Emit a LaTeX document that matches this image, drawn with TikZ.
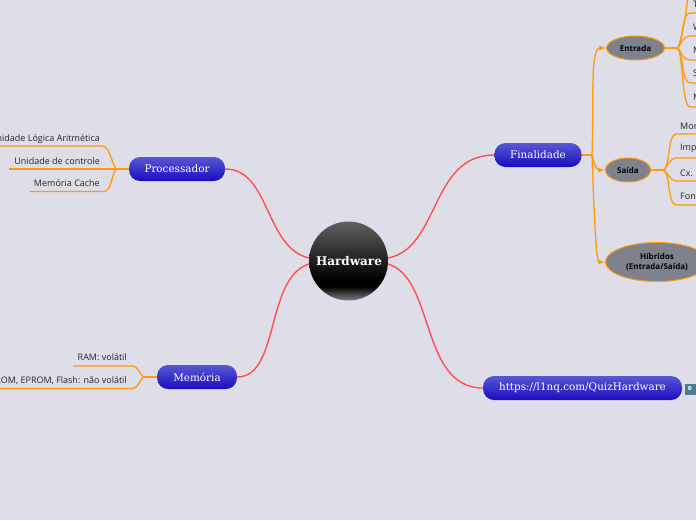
\documentclass[tikz,border=0pt]{standalone}
\usepackage{fontspec}
\usepackage{tikz}
\usetikzlibrary{shapes.geometric}
\setmainfont{Open Sans}
\newfontfamily\slabfont{DejaVu Serif}
\definecolor{bgcol}{HTML}{DEDEE8}
\definecolor{linkcol}{HTML}{FF5050}
\definecolor{subcol}{HTML}{FF9A0A}
\definecolor{ovalcol}{HTML}{7E828C}
\definecolor{topblue}{HTML}{5858D4}
\definecolor{botblue}{HTML}{1A0CC0}
\definecolor{iconcol}{HTML}{4E7B90}
\pgfdeclareverticalshading{hwball}{100bp}{color(0bp)=(black!50); color(25bp)=(black!50); color(34bp)=(black); color(38bp)=(black); color(75bp)=(black!62); color(100bp)=(black!62)}

\tikzset{
  main/.style={rounded corners=11pt, minimum height=24pt, top color=topblue, bottom color=botblue, text=white, inner sep=0pt, font=\slabfont\fontsize{10.4}{13}\selectfont},
  oval/.style={ellipse, draw=subcol, line width=1pt, fill=ovalcol, inner sep=0pt, font=\bfseries\fontsize{8}{10}\selectfont, align=center},
  leaf/.style={inner sep=0pt, text=black!85, font=\fontsize{9}{11}\selectfont},
  link/.style={draw=linkcol, line width=1.4pt},
  sub/.style={draw=subcol, line width=1.3pt},
}

\begin{document}
\begin{tikzpicture}[x=1pt, y=-1pt]
\fill[bgcol] (0, 0) rectangle (696, 520);
\useasboundingbox (0, 0) rectangle (696, 520);

% centre
\node[circle, minimum size=79pt, inner sep=0pt, shading=hwball] (hw) at (348.5, 261) {};
\node[inner sep=0pt, text=white, font=\slabfont\bfseries\fontsize{12}{14}\selectfont] (hwlabel) at (349, 261) {Hardware};

% main topics
\node[main, minimum width=96pt] (proc) at (177, 169) {Processador};
\node[main, minimum width=80pt] (mem) at (197, 377) {Memória};
\node[main, minimum width=87pt] (fin) at (538, 155) {Finalidade};
\node[main, minimum width=199pt] (quiz) at (582.5, 388) {https://l1nq.com/QuizHardware};
\node[fill=iconcol, minimum size=11pt, inner sep=0pt, text=white, font=\bfseries\fontsize{7}{7}\selectfont] (icon) at (690, 389) {e};

% links from the centre
\coordinate (p1) at (309, 258);
\coordinate (p2) at (309, 264);
\coordinate (p3) at (388, 258);
\coordinate (p4) at (388, 264);
\draw[link] (p1) .. controls (265, 248) and (270, 169) .. (proc.east);
\draw[link] (p2) .. controls (265, 278) and (280, 377) .. (mem.east);
\draw[link] (p3) .. controls (440, 248) and (430, 155) .. (fin.west);
\draw[link] (p4) .. controls (435, 278) and (420, 388) .. (quiz.west);

% processador
\node[leaf, anchor=south east] (ula) at (100, 144) {Unidade Lógica Aritmética};
\node[leaf, anchor=south east] (ctrl) at (100, 164.5) {Unidade de controle};
\node[leaf, anchor=south east] (cache) at (100, 187) {Memória Cache};
\coordinate (pj) at (117, 169);
\coordinate (ulaend) at (-5, 146);
\coordinate (ctrlend) at (9, 169);
\coordinate (cacheend) at (30, 191.5);
\draw[sub] (proc.west) -- (pj);
\draw[sub] (pj) .. controls (112, 168) and (111, 146) .. (102, 146) -- (ulaend);
\draw[sub] (pj) -- (ctrlend);
\draw[sub] (pj) .. controls (112, 170) and (112, 191.5) .. (104, 191.5) -- (cacheend);

% memoria
\node[leaf, anchor=south east] (ram) at (127, 361) {RAM: volátil};
\node[leaf, anchor=south east] (rom) at (127, 385) {ROM, EPROM, Flash: não volátil};
\coordinate (mj) at (144, 377);
\coordinate (ramend) at (73, 366);
\coordinate (romend) at (-5, 388.5);
\draw[sub] (mem.west) -- (mj);
\draw[sub] (mj) .. controls (140, 376) and (139, 366) .. (132, 366) -- (ramend);
\draw[sub] (mj) .. controls (140, 378) and (139, 388.5) .. (132, 388.5) -- (romend);

% finalidade
\node[oval, minimum width=58pt, minimum height=24pt] (ent) at (635.5, 48) {Entrada};
\node[oval, minimum width=45pt, minimum height=24pt] (sai) at (628, 170) {Saída};
\node[oval, minimum width=103pt, minimum height=39pt] (hib) at (657, 262) {Híbridos\\(Entrada/Saída)};
\coordinate (fj) at (592, 155);
\draw[sub] (fin.east) -- (fj);
\draw[sub, -latex] (fj) .. controls (594, 100) and (590, 48) .. (ent.west);
\draw[sub, -latex] (fj) .. controls (594, 162) and (596, 170) .. (sai.west);
\draw[sub, -latex] (fj) .. controls (594, 210) and (596, 262) .. (hib.west);

% entrada
\node[leaf, anchor=south west] (e1) at (693, 8) {Teclado};
\node[leaf, anchor=south west] (e2) at (693, 31) {Webcam};
\node[leaf, anchor=south west] (e3) at (693, 54) {Microfone};
\node[leaf, anchor=south west] (e4) at (693, 77) {Scanner};
\node[leaf, anchor=south west] (e5) at (693, 101) {Mesa};
\coordinate (ej) at (678, 48);
\coordinate (e0end) at (688, -5);
\coordinate (e1end) at (700, 13);
\coordinate (e2end) at (700, 36);
\coordinate (e3end) at (700, 60);
\coordinate (e4end) at (700, 83);
\coordinate (e5end) at (700, 107);
\draw[sub] (ent.east) -- (ej);
\draw[sub] (ej) .. controls (682, 38) and (686, 15) .. (e0end);
\draw[sub] (ej) .. controls (683, 40) and (682, 13) .. (690, 13) -- (e1end);
\draw[sub] (ej) .. controls (681, 44) and (683, 36) .. (690, 36) -- (e2end);
\draw[sub] (ej) .. controls (681, 52) and (683, 60) .. (690, 60) -- (e3end);
\draw[sub] (ej) .. controls (683, 54) and (682, 83) .. (690, 83) -- (e4end);
\draw[sub] (ej) .. controls (683, 56) and (682, 107) .. (690, 107) -- (e5end);

% saida
\node[leaf, anchor=south west] (s1) at (680, 130) {Monitor};
\node[leaf, anchor=south west] (s2) at (680, 153) {Impressora};
\node[leaf, anchor=south west] (s3) at (680, 177) {Cx. de som};
\node[leaf, anchor=south west] (s4) at (680, 200) {Fones};
\coordinate (sj) at (664, 170);
\coordinate (s1end) at (700, 134);
\coordinate (s2end) at (700, 158);
\coordinate (s3end) at (700, 181);
\coordinate (s4end) at (700, 205);
\draw[sub] (sai.east) -- (sj);
\draw[sub] (sj) .. controls (670, 165) and (668, 134) .. (676, 134) -- (s1end);
\draw[sub] (sj) .. controls (668, 166) and (670, 158) .. (676, 158) -- (s2end);
\draw[sub] (sj) .. controls (668, 173) and (670, 181) .. (676, 181) -- (s3end);
\draw[sub] (sj) .. controls (670, 175) and (668, 205) .. (676, 205) -- (s4end);
\end{tikzpicture}
\end{document}
